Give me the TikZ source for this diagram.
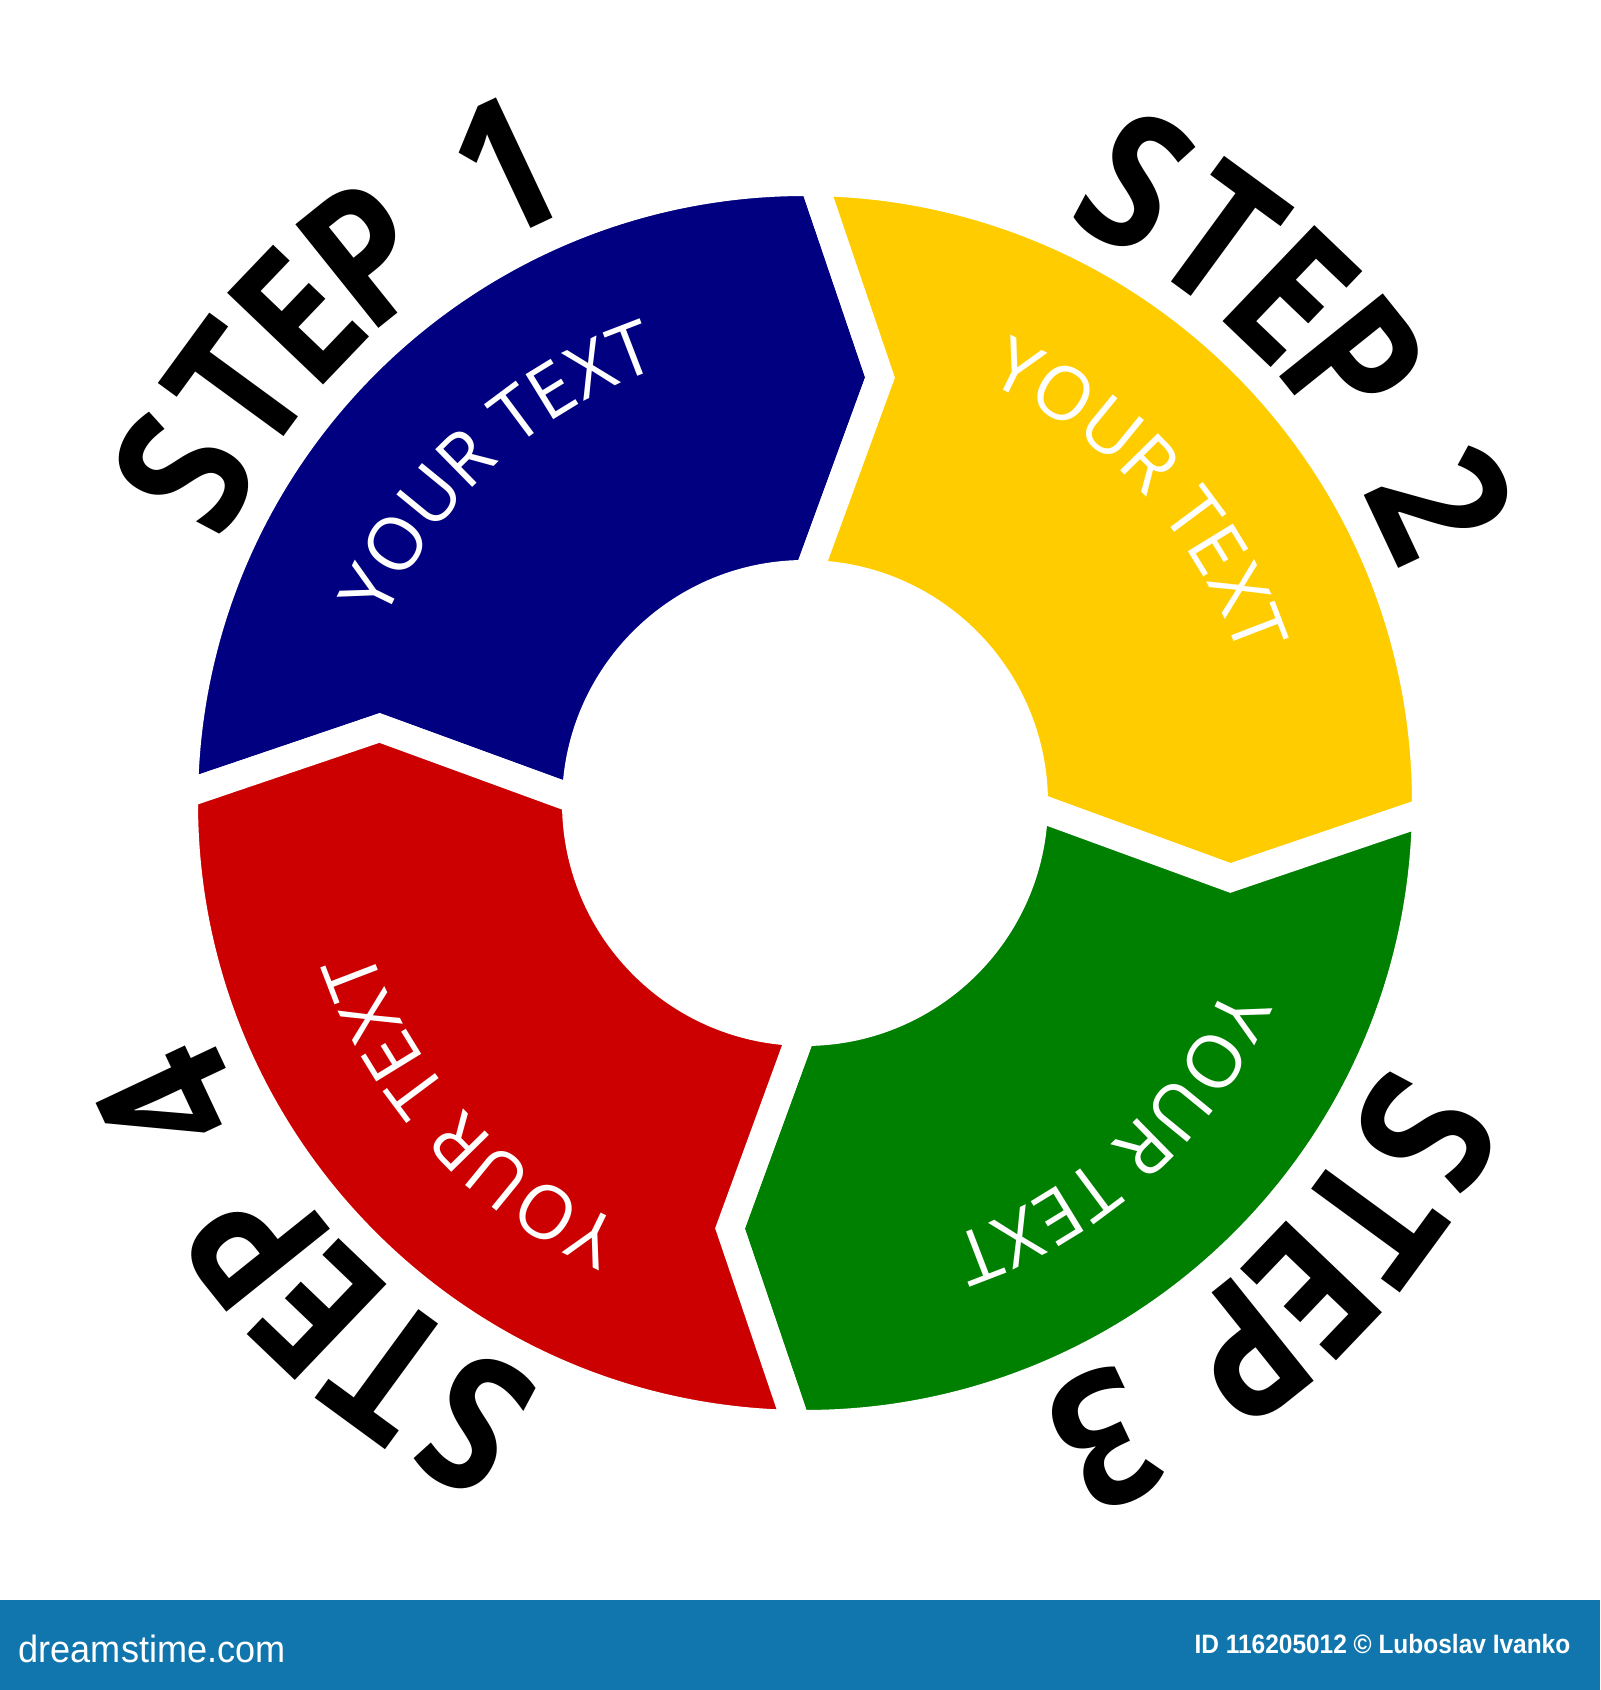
\documentclass[tikz,border=0pt]{standalone}
\usepackage{fontspec}
\setmainfont{Open Sans}
\newfontfamily\creditfont{Liberation Sans}
\usetikzlibrary{decorations.text}
\definecolor{stepblue}{RGB}{0,0,128}
\definecolor{stepyellow}{RGB}{255,204,0}
\definecolor{stepgreen}{RGB}{0,128,0}
\definecolor{stepred}{RGB}{204,0,0}
\definecolor{barblue}{RGB}{16,118,173}
\tikzset{every picture/.style={line width=0.75pt}}
\tikzset{
  segment/.style={draw=white, line width=14pt, line join=miter},
  steplabel/.style={anchor=base, inner sep=0pt, font=\fontsize{93}{93}\selectfont\bfseries},
  creditlabel/.style={inner sep=0pt, text=white}
}

\begin{document}
\begin{tikzpicture}[x=0.5pt,y=0.5pt]
\useasboundingbox (0,0) rectangle (1600,1690);
\coordinate (ctr) at (805,887);

\begin{scope}[shift={(ctr)}]
%Shape: Ring segments, each one with its arrow tip
\foreach \b/\col [evaluate=\b as \f using \b-90, evaluate=\b as \t using \b-99.2, evaluate=\b as \s using \b-9.2] in {179.2/stepblue, 89.2/stepyellow, -0.8/stepgreen, -90.8/stepred}
  \filldraw[segment, fill=\col] (\b:621) arc[start angle=\b, end angle=\f, radius=621] -- (\t:432) -- (\f:229) arc[start angle=\f, end angle=\b, radius=229] -- (\s:432) -- cycle;

% Text Node
\foreach \c/\digit [count=\k] in {134.2/1, 44.2/2, -45.8/3, -135.8/4} {
  \foreach \ch/\off [count=\i] in {S/17.8, T/9.6, E/2.1, P/-5.5, \digit/-19.0}
    \node[steplabel, rotate={\c+\off-90}, xscale=0.87] (step\k-\i) at ({\c+\off}:637) {\ch};
}

% Text Node
\foreach \c in {132.5, 42.5, -47.5, -137.5}
  \path[decorate, decoration={text along path, text align=center, text color=white, text={|\fontsize{37}{37}\selectfont|YOUR TEXT}}] ({\c+32}:458) arc[start angle={\c+32}, end angle={\c-32}, radius=458];
\end{scope}

%Shape: Rectangle
\fill[barblue] (0,0) rectangle (1600,90);
% Text Node
\node[creditlabel, anchor=base west, xscale=0.95, font=\creditfont\fontsize{19}{19}\selectfont] (brand) at (18,27) {dreamstime.com};
% Text Node
\node[creditlabel, anchor=base east, xscale=0.92, font=\creditfont\bfseries\fontsize{13.3}{13.3}\selectfont] (credit) at (1571,36) {ID 116205012 © Luboslav Ivanko};

\end{tikzpicture}
\end{document}
